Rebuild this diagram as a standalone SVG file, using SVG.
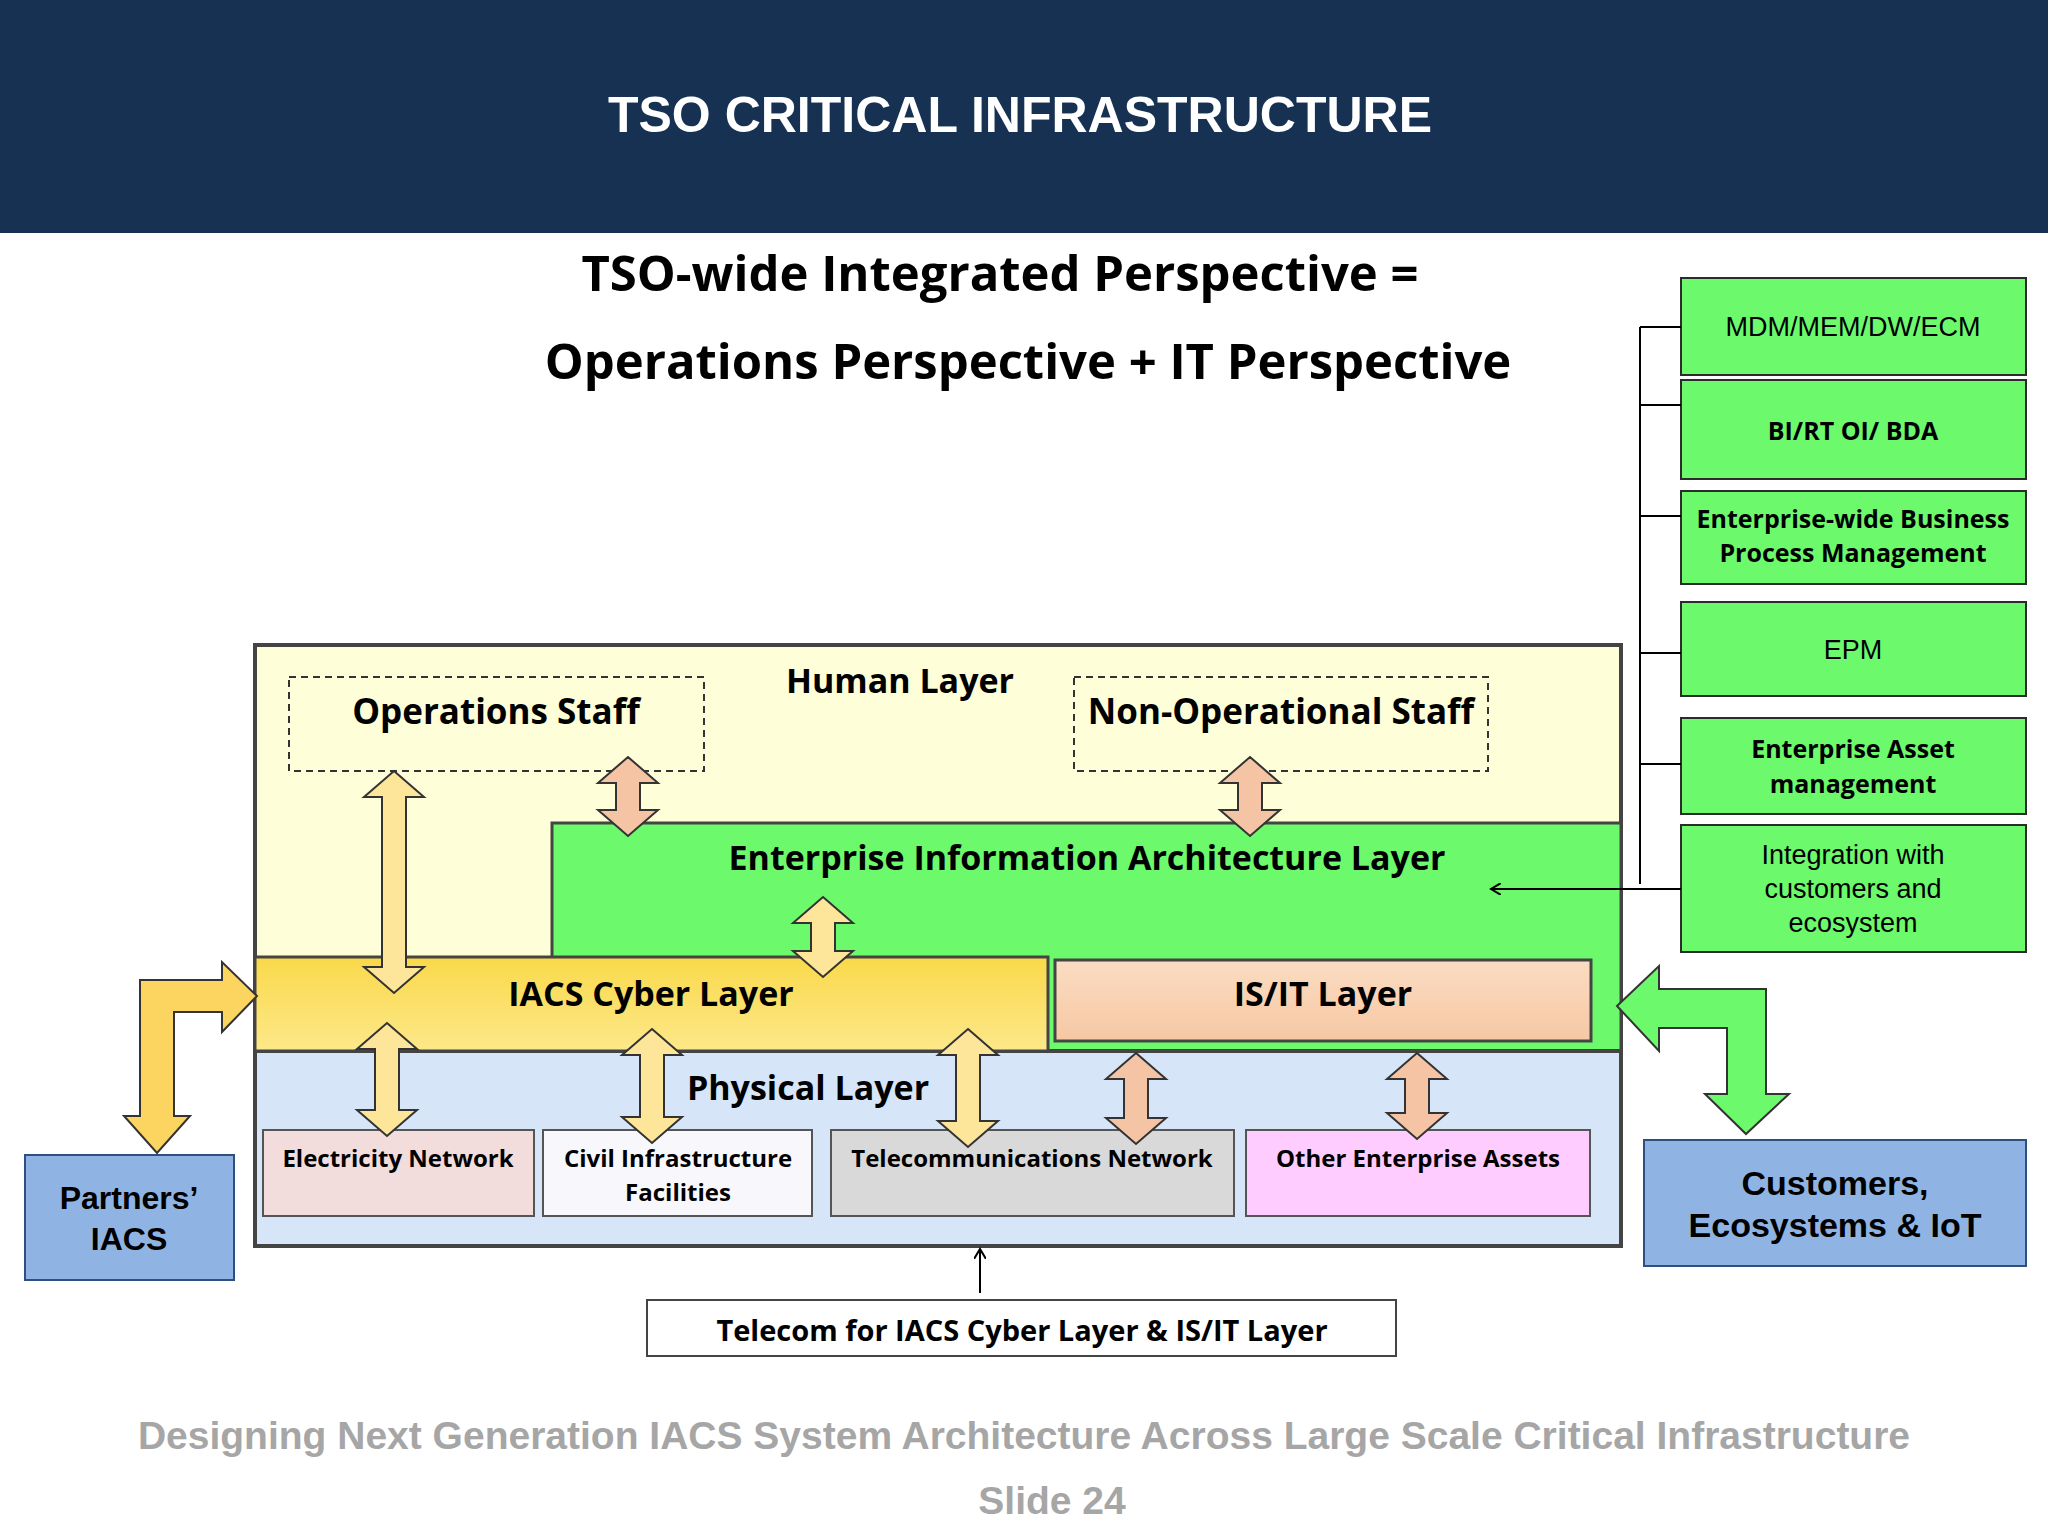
<svg xmlns="http://www.w3.org/2000/svg" width="2048" height="1536" viewBox="0 0 2048 1536">
<defs>
<style>
.os{font-family:"Open Sans","Liberation Sans",sans-serif;font-weight:bold;fill:#000}
.ls{font-family:"Liberation Sans",Arial,sans-serif;fill:#000}
.g{fill:#6cf96c;stroke:#2b2b2b;stroke-width:2}
.ya{fill:#fde699;stroke:#333;stroke-width:2}
.pa{fill:#f4c4a4;stroke:#333;stroke-width:2}
.ln{stroke:#000;stroke-width:2;fill:none}
.dash{fill:none;stroke:#333;stroke-width:2;stroke-dasharray:7,5}
.bb{stroke:#555;stroke-width:2}
</style>
<linearGradient id="gold" x1="0" y1="0" x2="0" y2="1"><stop offset="0" stop-color="#f9d94a"/><stop offset="1" stop-color="#fde88a"/></linearGradient>
<linearGradient id="peach" x1="0" y1="0" x2="0" y2="1"><stop offset="0" stop-color="#fbdcc2"/><stop offset="1" stop-color="#f6c8a4"/></linearGradient>
<marker id="ah" markerWidth="12" markerHeight="12" refX="10" refY="6" orient="auto" markerUnits="userSpaceOnUse"><path d="M0,0 L10,6 L0,12" fill="none" stroke="#000" stroke-width="2"/></marker>
</defs>
<rect width="2048" height="1536" fill="#fff"/>
<g id="header"><rect x="0" y="0" width="2048" height="233" fill="#173152"/>
<text x="1020" y="132" text-anchor="middle" font-family="Liberation Sans,Arial,sans-serif" font-weight="bold" font-size="50" fill="#fff">TSO CRITICAL INFRASTRUCTURE</text></g>
<g id="subtitle"><text class="os" x="1000" y="291" text-anchor="middle" font-size="49">TSO-wide Integrated Perspective  =</text>
<text class="os" x="1028" y="379" text-anchor="middle" font-size="49">Operations Perspective + IT Perspective</text></g>

<g id="container">
<rect x="255" y="645" width="1366" height="601" fill="#fefed8" stroke="#444" stroke-width="4"/>
<rect x="552" y="823" width="1069" height="228" fill="#6cf96c" stroke="#444" stroke-width="3"/>
<rect x="255" y="1051" width="1366" height="195" fill="#d6e6f8" stroke="#444" stroke-width="4"/>
<text class="os" x="900" y="693" text-anchor="middle" font-size="34">Human Layer</text>
<text class="os" x="1087" y="870" text-anchor="middle" font-size="34">Enterprise Information Architecture Layer</text>
<text class="os" x="808" y="1100" text-anchor="middle" font-size="34">Physical Layer</text>
</g>
<g id="ops"><rect class="dash" x="289" y="677" width="415" height="94"/><text class="os" x="496" y="724" text-anchor="middle" font-size="35">Operations Staff</text></g>
<g id="nonops"><rect class="dash" x="1074" y="677" width="414" height="94"/><text class="os" x="1281" y="724" text-anchor="middle" font-size="35">Non-Operational Staff</text></g>
<g id="iacs"><rect x="255" y="957" width="793" height="94" fill="url(#gold)" stroke="#444" stroke-width="3"/><text class="os" x="651" y="1006" text-anchor="middle" font-size="34">IACS Cyber Layer</text></g>
<g id="isit"><rect x="1055" y="960" width="536" height="81" fill="url(#peach)" stroke="#444" stroke-width="3"/><text class="os" x="1323" y="1006" text-anchor="middle" font-size="34">IS/IT Layer</text></g>
<g id="elec"><rect class="bb" x="263" y="1130" width="271" height="86" fill="#f2dcdc"/><text class="os" x="398" y="1167" text-anchor="middle" font-size="24">Electricity Network</text></g>
<g id="civil"><rect class="bb" x="543" y="1130" width="269" height="86" fill="#f8f8fc"/><text class="os" x="678" y="1167" text-anchor="middle" font-size="24">Civil Infrastructure</text><text class="os" x="678" y="1201" text-anchor="middle" font-size="24">Facilities</text></g>
<g id="telecom"><rect class="bb" x="831" y="1130" width="403" height="86" fill="#d9d9d9"/><text class="os" x="1032" y="1167" text-anchor="middle" font-size="24">Telecommunications Network</text></g>
<g id="other"><rect class="bb" x="1246" y="1130" width="344" height="86" fill="#ffccff"/><text class="os" x="1418" y="1167" text-anchor="middle" font-size="24">Other Enterprise Assets</text></g>
<g id="partners"><rect x="25" y="1155" width="209" height="125" fill="#8fb4e3" stroke="#2f4f7f" stroke-width="2"/><text x="129" y="1209" text-anchor="middle" font-family="Liberation Sans,Arial,sans-serif" font-weight="bold" font-size="32">Partners’</text><text x="129" y="1250" text-anchor="middle" font-family="Liberation Sans,Arial,sans-serif" font-weight="bold" font-size="32">IACS</text></g>
<g id="customers"><rect x="1644" y="1140" width="382" height="126" fill="#8fb4e3" stroke="#2f4f7f" stroke-width="2"/><text x="1835" y="1195" text-anchor="middle" font-family="Liberation Sans,Arial,sans-serif" font-weight="bold" font-size="34">Customers,</text><text x="1835" y="1237" text-anchor="middle" font-family="Liberation Sans,Arial,sans-serif" font-weight="bold" font-size="34">Ecosystems &amp; IoT</text></g>
<g id="telbox"><rect x="647" y="1300" width="749" height="56" fill="#fff" stroke="#444" stroke-width="2"/><text class="os" x="1022" y="1341" text-anchor="middle" font-size="29" font-weight="600">Telecom  for IACS Cyber  Layer &amp; IS/IT Layer</text></g>

<g id="b1"><rect class="g" x="1681" y="278" width="345" height="97"/><text class="ls" x="1853" y="336" text-anchor="middle" font-size="27">MDM/MEM/DW/ECM</text></g>
<g id="b2"><rect class="g" x="1681" y="380" width="345" height="99"/><text class="os" x="1853" y="440" text-anchor="middle" font-size="25">BI/RT OI/ BDA</text></g>
<g id="b3"><rect class="g" x="1681" y="491" width="345" height="93"/><text class="os" x="1853" y="528" text-anchor="middle" font-size="25">Enterprise-wide  Business</text><text class="os" x="1853" y="562" text-anchor="middle" font-size="25">Process Management</text></g>
<g id="b4"><rect class="g" x="1681" y="602" width="345" height="94"/><text class="ls" x="1853" y="659" text-anchor="middle" font-size="27">EPM</text></g>
<g id="b5"><rect class="g" x="1681" y="718" width="345" height="96"/><text class="os" x="1853" y="758" text-anchor="middle" font-size="25">Enterprise Asset</text><text class="os" x="1853" y="793" text-anchor="middle" font-size="25">management</text></g>
<g id="b6"><rect class="g" x="1681" y="825" width="345" height="127"/><text class="ls" x="1853" y="864" text-anchor="middle" font-size="27">Integration with</text><text class="ls" x="1853" y="898" text-anchor="middle" font-size="27">customers and</text><text class="ls" x="1853" y="932" text-anchor="middle" font-size="27">ecosystem</text></g>

<g id="connectors">
<path class="ln" d="M1640,327 V884 M1640,327 H1681 M1640,405 H1681 M1640,516 H1681 M1640,653 H1681 M1640,764 H1681"/>
<path class="ln" d="M1681,889 H1491" marker-end="url(#ah)"/>
<path class="ln" d="M980,1293 V1249" marker-end="url(#ah)"/>
<polygon class="ya" points="394,771 424,797 406,797 406,967 424,967 394,993 364,967 382,967 382,797 364,797"/>
<polygon class="ya" points="823,897 853,923 835,923 835,951 853,951 823,977 793,951 811,951 811,923 793,923"/>
<polygon class="ya" points="387,1023 417,1049 399,1049 399,1110 417,1110 387,1136 357,1110 375,1110 375,1049 357,1049"/>
<polygon class="ya" points="652,1029 682,1055 664,1055 664,1117 682,1117 652,1143 622,1117 640,1117 640,1055 622,1055"/>
<polygon class="ya" points="968,1029 998,1055 980,1055 980,1121 998,1121 968,1147 938,1121 956,1121 956,1055 938,1055"/>
<polygon class="pa" points="628,757 658,783 640,783 640,810 658,810 628,836 598,810 616,810 616,783 598,783"/>
<polygon class="pa" points="1250,757 1280,783 1262,783 1262,810 1280,810 1250,836 1220,810 1238,810 1238,783 1220,783"/>
<polygon class="pa" points="1136,1053 1166,1079 1148,1079 1148,1118 1166,1118 1136,1144 1106,1118 1124,1118 1124,1079 1106,1079"/>
<polygon class="pa" points="1417,1053 1447,1079 1429,1079 1429,1113 1447,1113 1417,1139 1387,1113 1405,1113 1405,1079 1387,1079"/>
<polygon fill="#fbd560" stroke="#333" stroke-width="2" points="140,1116 140,980 222,980 222,962 257,996 222,1032 222,1012 174,1012 174,1116 190,1116 157,1153 124,1116"/>
<polygon fill="#6cf96c" stroke="#333" stroke-width="2" points="1617,1006 1659,966 1659,989 1766,989 1766,1094 1789,1094 1746,1134 1705,1094 1727,1094 1727,1028 1659,1028 1659,1051"/>
</g>
<g id="footer"><text x="1024" y="1449" text-anchor="middle" font-family="Liberation Sans,Arial,sans-serif" font-weight="bold" font-size="39" fill="#a6a6a6">Designing Next Generation IACS System Architecture Across Large Scale Critical Infrastructure</text>
<text x="1052" y="1514" text-anchor="middle" font-family="Liberation Sans,Arial,sans-serif" font-weight="bold" font-size="39" fill="#a6a6a6">Slide 24</text></g>
</svg>
